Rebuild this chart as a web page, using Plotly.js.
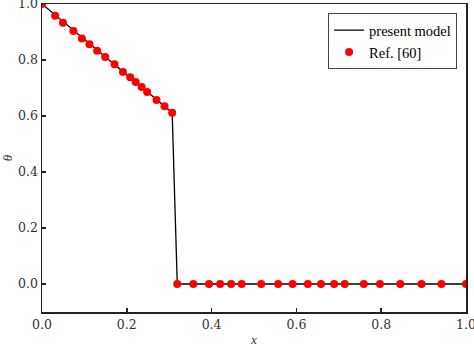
<!DOCTYPE html>
<html>
<head>
<meta charset="utf-8">
<script src="https://cdn.plot.ly/plotly-3.0.1.min.js"></script>
<style>html,body{margin:0;padding:0;background:#fff;}#chart{width:474px;height:351px;}</style>
</head>
<body>
<div id="chart"></div>
<script>
// present model (solid line)
const modelX = [0, 0.307, 0.319, 1.0];
const modelY = [1.0, 0.612, 0.0, 0.0];
// Ref. [60] (red dots)
const refX = [0, 0.031, 0.0495, 0.074, 0.094, 0.112, 0.130, 0.149, 0.171, 0.191, 0.208, 0.221, 0.235, 0.248, 0.270, 0.289, 0.307,
  0.319, 0.357, 0.394, 0.420, 0.446, 0.471, 0.517, 0.557, 0.591, 0.627, 0.658, 0.689, 0.714, 0.759, 0.797, 0.845, 0.895, 0.942, 1.0];
const refY = [1.0, 0.958, 0.933, 0.904, 0.877, 0.856, 0.833, 0.811, 0.785, 0.757, 0.738, 0.721, 0.704, 0.686, 0.657, 0.635, 0.612,
  0, 0, 0, 0, 0, 0, 0, 0, 0, 0, 0, 0, 0, 0, 0, 0, 0, 0, 0];
const xTicks = [0, 0.2, 0.4, 0.6, 0.8, 1.0];
const yTicks = [0, 0.2, 0.4, 0.6, 0.8, 1.0];

const serif = 'Liberation Serif, Times New Roman, serif';
const tickSerif = 'DejaVu Serif, serif';
const traces = [
  {x: modelX, y: modelY, mode: 'lines', name: 'present model',
   line: {color: '#000', width: 1.3}},
  {x: refX, y: refY, mode: 'markers', name: 'Ref. [60]',
   marker: {color: '#ff0000', size: 8}}
];
const layout = {
  width: 474, height: 351,
  margin: {l: 42, r: 8, t: 4, b: 39},
  paper_bgcolor: '#fff', plot_bgcolor: '#fff',
  showlegend: true,
  legend: {x: 0.979, xanchor: 'right', y: 0.97, yanchor: 'top',
    bordercolor: '#444', borderwidth: 1, bgcolor: '#fff',
    font: {family: serif, size: 14.5, color: '#000'},
    tracegroupgap: 0, itemwidth: 30},
  xaxis: {range: [0, 1.0], tickvals: xTicks, tickformat: '.1f',
    ticks: 'inside', ticklen: 4, tickwidth: 1.5, tickcolor: '#222',
    showline: true, linecolor: '#222', linewidth: 1.5, mirror: true,
    showgrid: false, zeroline: false, ticklabeloverflow: 'allow',
    tickfont: {family: tickSerif, size: 12.5, color: '#333'},
    title: {text: '<i>x</i>', font: {family: serif, size: 13, color: '#333'}, standoff: 4}},
  yaxis: {range: [-0.1, 1.0], tickvals: yTicks, tickformat: '.1f',
    ticks: 'inside', ticklen: 4, tickwidth: 1.5, tickcolor: '#222',
    showline: true, linecolor: '#222', linewidth: 1.5, mirror: true,
    showgrid: false, zeroline: false, ticklabeloverflow: 'allow',
    tickfont: {family: tickSerif, size: 12.5, color: '#333'},
    title: {text: '<i>θ</i>', font: {family: serif, size: 13, color: '#333'}, standoff: 2}}
};
Plotly.newPlot('chart', traces, layout, {displayModeBar: false, staticPlot: true});
</script>
</body>
</html>
